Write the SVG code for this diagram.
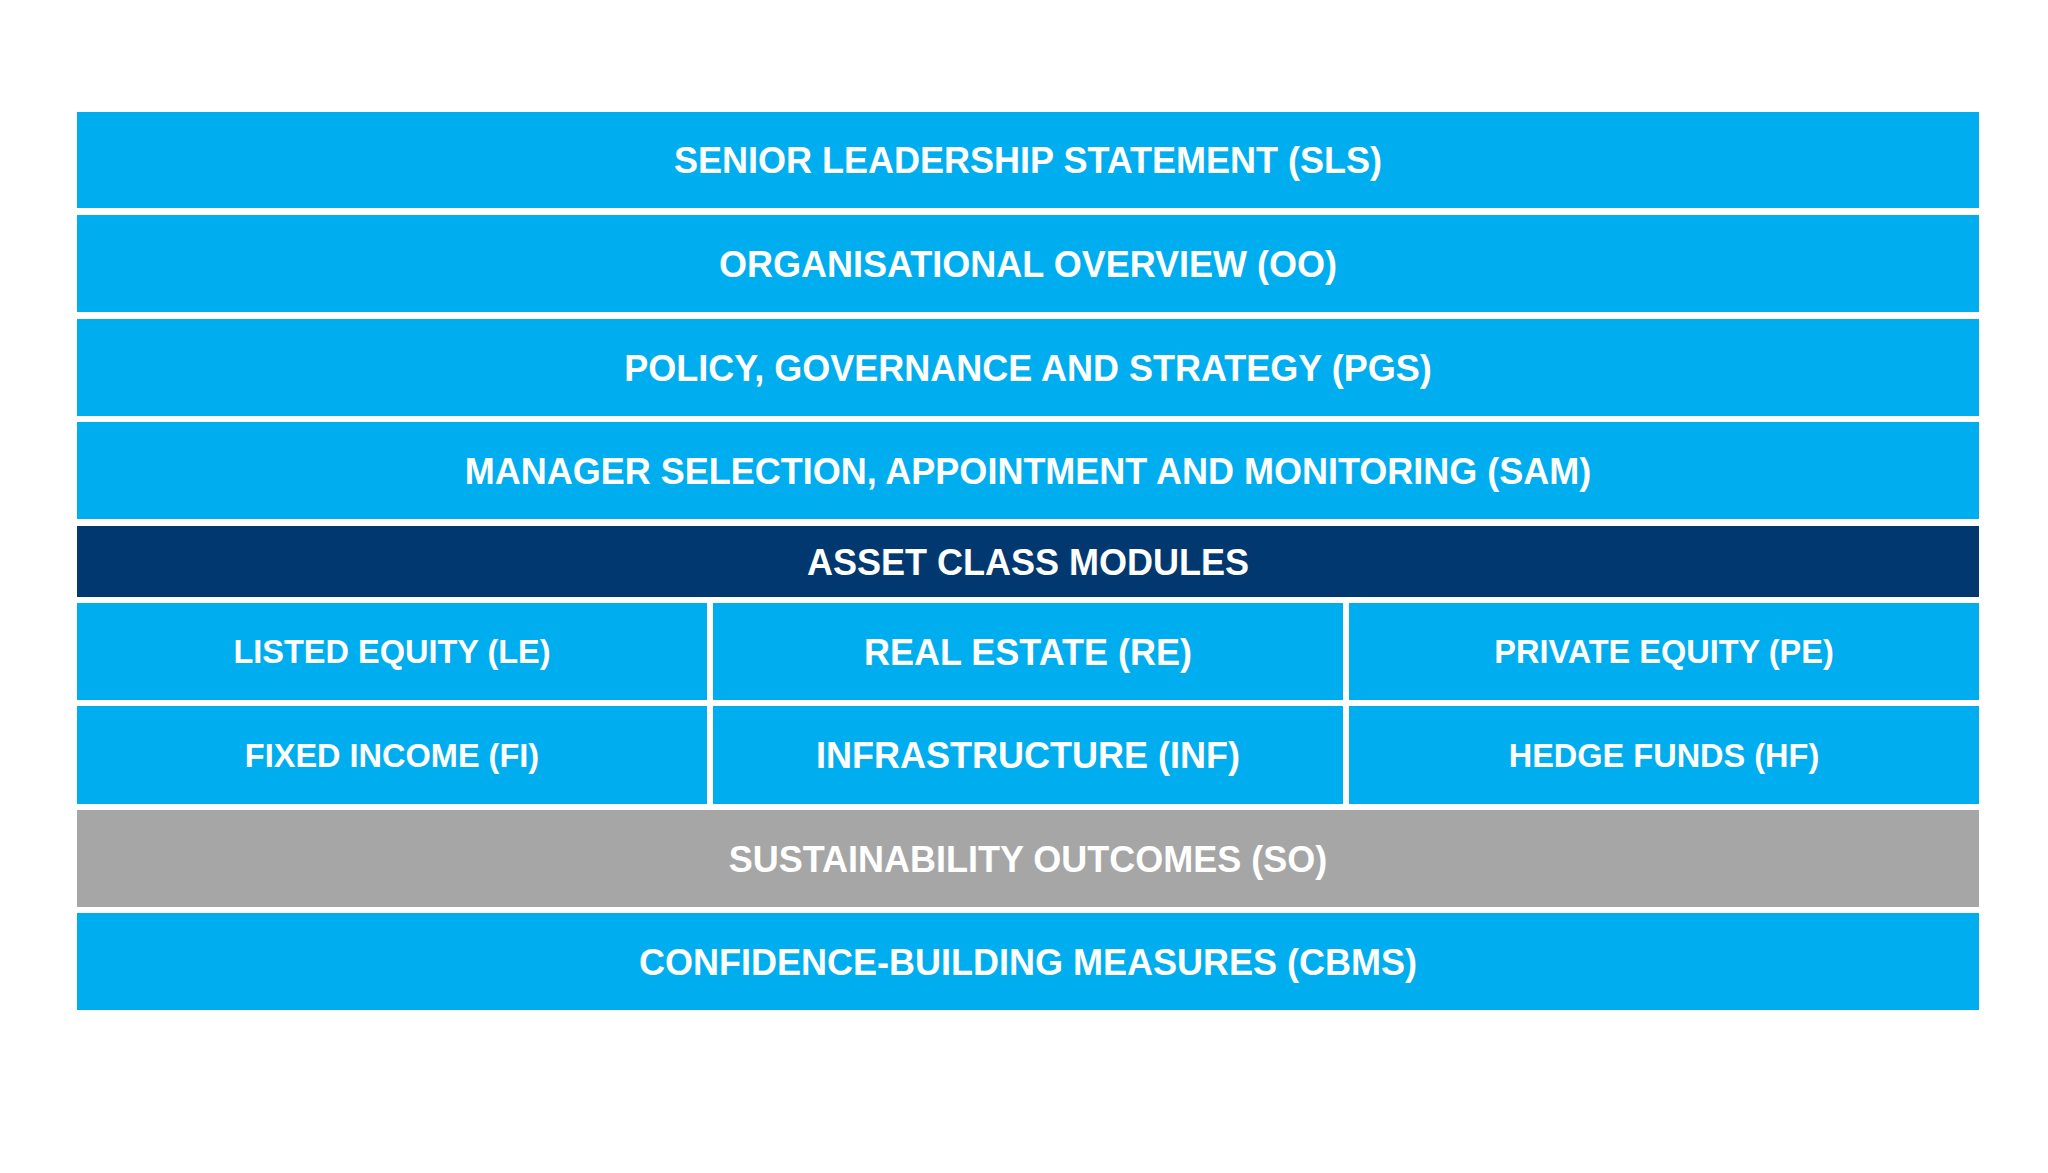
<svg xmlns="http://www.w3.org/2000/svg" width="2048" height="1173" viewBox="0 0 2048 1173">
  <style>
    .blue { fill: #00AEEF; }
    .navy { fill: #00386F; }
    .grey { fill: #A6A6A6; }
    .lbl { font-family: "Liberation Sans", Arial, Helvetica, sans-serif; font-weight: bold; fill: #FFFFFF; text-anchor: middle; font-size: 36px; }
    .sm { font-size: 32.5px; }
  </style>
  <rect x="0" y="0" width="2048" height="1173" fill="#FFFFFF"/>
  <g id="connectors"/>
  <g id="sls">
    <rect class="blue" x="77" y="112" width="1902" height="96"/>
    <text class="lbl" x="1028" y="173">SENIOR LEADERSHIP STATEMENT (SLS)</text>
  </g>
  <g id="oo">
    <rect class="blue" x="77" y="215" width="1902" height="97"/>
    <text class="lbl" x="1028" y="276.5">ORGANISATIONAL OVERVIEW (OO)</text>
  </g>
  <g id="pgs">
    <rect class="blue" x="77" y="319" width="1902" height="97"/>
    <text class="lbl" x="1028" y="380.5">POLICY, GOVERNANCE AND STRATEGY (PGS)</text>
  </g>
  <g id="sam">
    <rect class="blue" x="77" y="422" width="1902" height="97"/>
    <text class="lbl" x="1028" y="483.5">MANAGER SELECTION, APPOINTMENT AND MONITORING (SAM)</text>
  </g>
  <g id="acm">
    <rect class="navy" x="77" y="526" width="1902" height="71"/>
    <text class="lbl" x="1028" y="574.5">ASSET CLASS MODULES</text>
  </g>
  <g id="le">
    <rect class="blue" x="77" y="603" width="630" height="97"/>
    <text class="lbl sm" x="392" y="663.2">LISTED EQUITY (LE)</text>
  </g>
  <g id="re">
    <rect class="blue" x="713" y="603" width="630" height="97"/>
    <text class="lbl" x="1028" y="664.5">REAL ESTATE (RE)</text>
  </g>
  <g id="pe">
    <rect class="blue" x="1349" y="603" width="630" height="97"/>
    <text class="lbl sm" x="1664" y="663.2">PRIVATE EQUITY (PE)</text>
  </g>
  <g id="fi">
    <rect class="blue" x="77" y="706" width="630" height="98"/>
    <text class="lbl sm" x="392" y="766.7">FIXED INCOME (FI)</text>
  </g>
  <g id="inf">
    <rect class="blue" x="713" y="706" width="630" height="98"/>
    <text class="lbl" x="1028" y="768">INFRASTRUCTURE (INF)</text>
  </g>
  <g id="hf">
    <rect class="blue" x="1349" y="706" width="630" height="98"/>
    <text class="lbl sm" x="1664" y="766.7">HEDGE FUNDS (HF)</text>
  </g>
  <g id="so">
    <rect class="grey" x="77" y="810" width="1902" height="97"/>
    <text class="lbl" x="1028" y="871.5">SUSTAINABILITY OUTCOMES (SO)</text>
  </g>
  <g id="cbms">
    <rect class="blue" x="77" y="913" width="1902" height="97"/>
    <text class="lbl" x="1028" y="974.5">CONFIDENCE-BUILDING MEASURES (CBMS)</text>
  </g>
</svg>
